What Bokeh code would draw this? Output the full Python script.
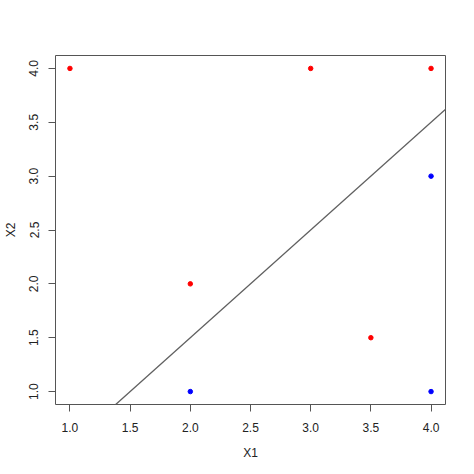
from bokeh.plotting import figure
from bokeh.models import Range1d, FixedTicker, PrintfTickFormatter, Slope, ColumnDataSource
from bokeh.embed import file_html
from bokeh.resources import INLINE

# data
x1 = [1.0, 3.0, 4.0, 2.0, 3.5, 2.0, 4.0, 4.0]
x2 = [4.0, 4.0, 4.0, 2.0, 1.5, 1.0, 3.0, 1.0]
cls = ["red", "red", "red", "red", "red", "blue", "blue", "blue"]
line_slope = 1.0
line_intercept = -0.5
ticks = [1.0, 1.5, 2.0, 2.5, 3.0, 3.5, 4.0]

FONT = "Liberation Sans"

p = figure(width=469, height=470, output_backend="svg", toolbar_location=None,
           x_range=Range1d(0.88, 4.12), y_range=Range1d(0.88, 4.12),
           frame_width=390, frame_height=349,
           min_border_left=55, min_border_top=55, min_border_right=24, min_border_bottom=66)
p.background_fill_color = "white"
p.border_fill_color = "white"
p.outline_line_color = "#555555"
p.outline_line_width = 1
p.xgrid.visible = False
p.ygrid.visible = False

src = ColumnDataSource(dict(x=x1, y=x2, c=cls))
p.scatter("x", "y", source=src, size=4.5, color="c", line_color="c")
p.add_layout(Slope(gradient=line_slope, y_intercept=line_intercept, line_color="#606060", line_width=1.3))

for ax in (p.xaxis[0], p.yaxis[0]):
    ax.ticker = FixedTicker(ticks=ticks)
    ax.formatter = PrintfTickFormatter(format="%.1f")
    ax.axis_line_color = None
    ax.major_tick_line_color = "#555555"
    ax.major_tick_in = 0
    ax.major_tick_out = 7
    ax.minor_tick_line_color = None
    ax.major_label_text_font = FONT
    ax.major_label_text_font_size = "12px"
    ax.major_label_text_color = "#222222"
    ax.axis_label_text_font = FONT
    ax.axis_label_text_font_size = "12px"
    ax.axis_label_text_font_style = "normal"
    ax.axis_label_text_color = "#222222"

p.xaxis.axis_label = "X1"
p.yaxis.axis_label = "X2"
p.xaxis.major_label_standoff = 11
p.xaxis.axis_label_standoff = 11
p.yaxis.major_label_standoff = 10
p.yaxis.major_label_orientation = "vertical"
p.yaxis.axis_label_standoff = 9

open("out.html", "w").write(file_html(p, INLINE))
